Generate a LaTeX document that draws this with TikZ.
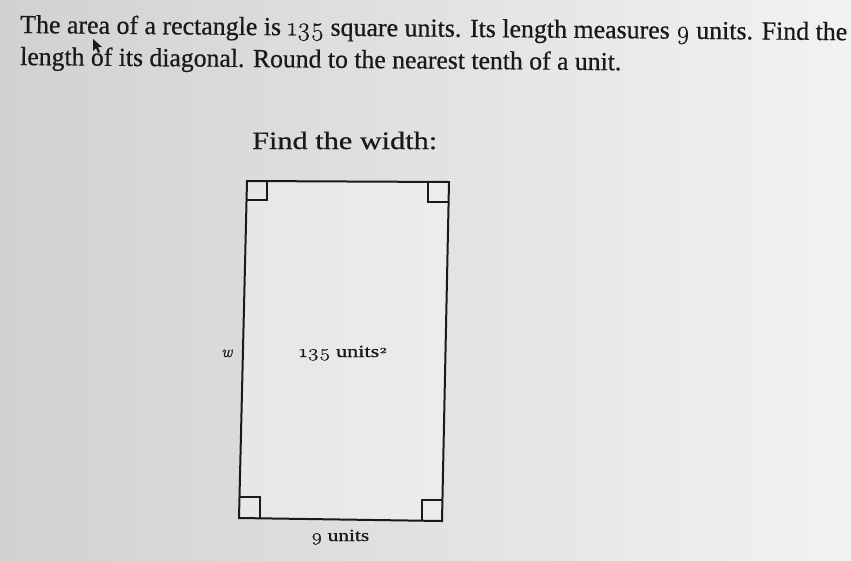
\documentclass[tikz,border=0pt]{standalone}
\usepackage{graphicx}
\usepackage{fontspec}
\setmainfont{Liberation Serif}
\newfontfamily\heavy{Liberation Serif}[FakeBold=0.6]
\newfontfamily\numfont{Latin Modern Roman}[FakeBold=0.6]
\newcommand{\osn}[1]{{\numfont\oldstylenums{#1}}}
\definecolor{ink}{RGB}{25,25,25}
\tikzset{
  txt/.style={anchor=base west, inner sep=0pt, text=ink},
  edge/.style={draw=ink, line width=2pt, line join=miter},
  anglemark/.style={draw=ink, line width=1.6pt}
}
\begin{document}
\begin{tikzpicture}[x=1pt,y=-1pt]
\useasboundingbox (0,0) rectangle (851,560);
\shade[left color=black!18, right color=black!5] (0,0) rectangle (851,560);
% header text
\node[txt, rotate=-0.5, font=\heavy\fontsize{26}{28}\selectfont] (l1) at (20,33)
  {\resizebox{827pt}{\height}{The area of a rectangle is \osn{135} square units. Its length measures \osn{9} units. Find the}};
\node[txt, rotate=-0.5, font=\heavy\fontsize{26}{28}\selectfont] (l2) at (20,65)
  {\resizebox{601pt}{\height}{length of its diagonal. Round to the nearest tenth of a unit.}};
% cursor
\fill[ink] (93,39) -- (93,51) -- (96,48) -- (98,53) -- (100,52) -- (98,47) -- (102,47) -- cycle;
\node[txt, font=\heavy\fontsize{25}{28}\selectfont] (hd) at (252,149)
  {\resizebox{185pt}{\height}{Find the width:}};
% rectangle
\coordinate (A) at (247,181);
\coordinate (B) at (449,182);
\coordinate (C) at (442,521);
\coordinate (D) at (239,518);
\fill[white, opacity=0.35] (A) -- (B) -- (C) -- (D) -- cycle;
\draw[edge] (A) -- (B) -- (C) -- (D) -- cycle;
% right angle marks
\draw[anglemark] ([yshift=-19pt]A) -- ++(20,0) -- ++(0,-19);
\draw[anglemark] ([yshift=-20pt]B) -- ++(-21,0) -- ++(0,-20);
\draw[anglemark] ([yshift=21pt]D) -- ++(21,0) -- ++(0,21);
\draw[anglemark] ([yshift=21pt]C) -- ++(-20,0) -- ++(0,21);
% labels
\node[txt, font=\fontsize{17}{20}\selectfont\itshape] (w) at (221,357) {\numfont w};
\node[txt, font=\heavy\fontsize{17}{20}\selectfont] (ar) at (299,357)
  {\resizebox{88pt}{\height}{\osn{135} units\raisebox{0.5ex}{\fontsize{11}{12}\selectfont\osn{2}}}};
\node[txt, font=\heavy\fontsize{17}{20}\selectfont] (bl) at (311,541)
  {\resizebox{58pt}{\height}{\osn{9} units}};
\end{tikzpicture}
\end{document}
